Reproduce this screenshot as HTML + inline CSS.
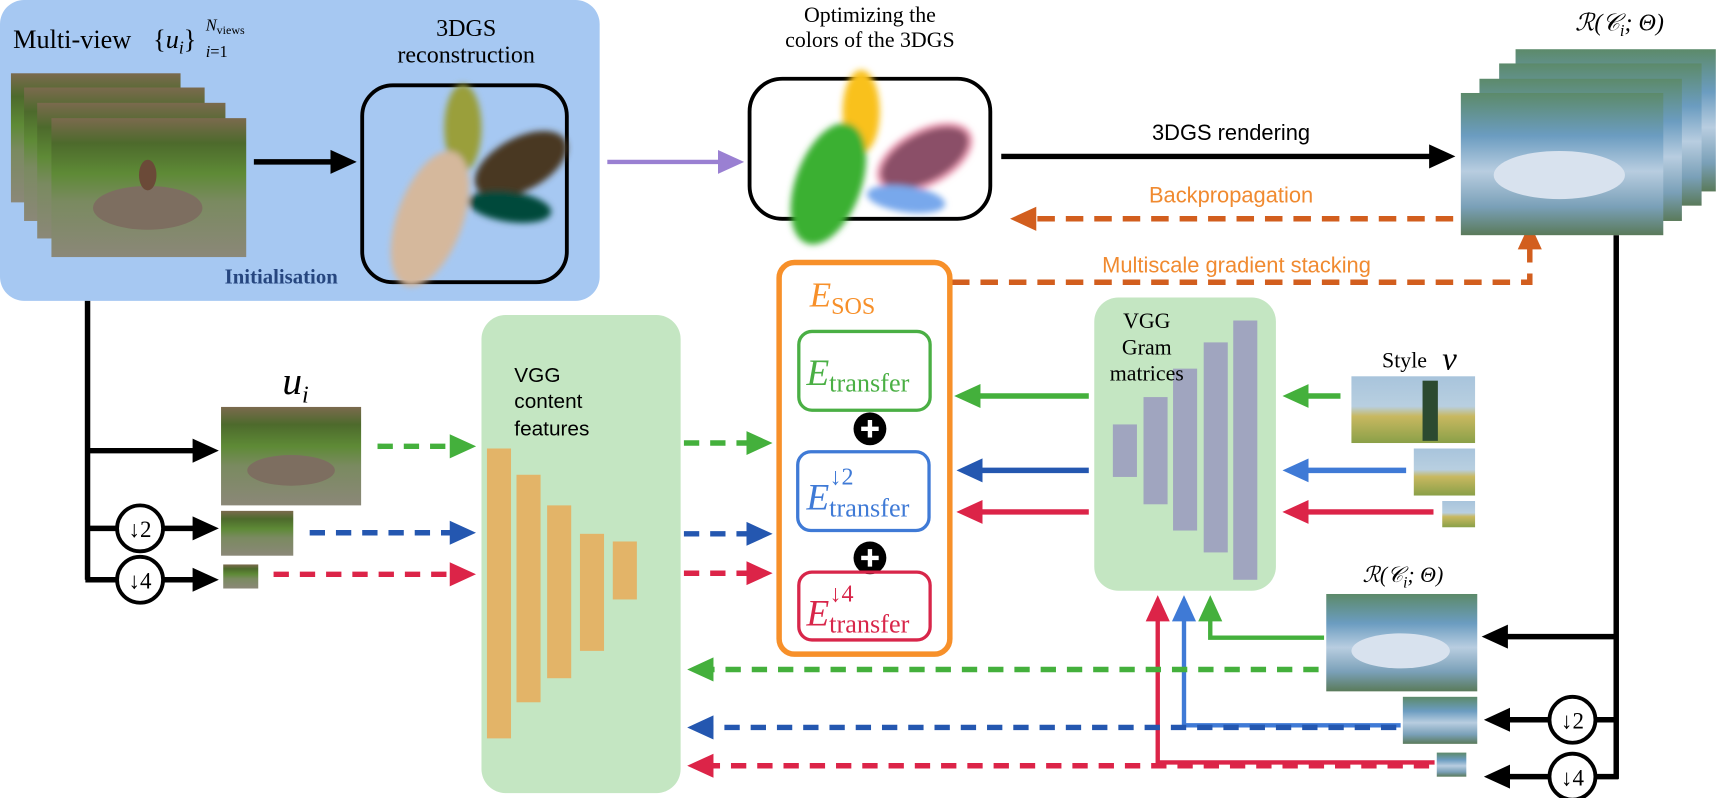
<!DOCTYPE html>
<html><head><meta charset="utf-8"><style>
html,body{margin:0;padding:0;background:#fff;}
svg{display:block;}
text{font-family:"Liberation Serif",serif;}
.sans{font-family:"Liberation Sans",sans-serif;}
</style></head><body>
<svg width="1718" height="798" viewBox="0 0 1570 729.5" preserveAspectRatio="none" xmlns="http://www.w3.org/2000/svg">
<defs>
<marker id="mk" markerUnits="userSpaceOnUse" markerWidth="24" markerHeight="24" refX="2" refY="12" orient="auto"><path d="M0,1 L24,12 L0,23 z" fill="#000"/></marker>
<marker id="mp" markerUnits="userSpaceOnUse" markerWidth="24" markerHeight="24" refX="2" refY="12" orient="auto"><path d="M0,1 L24,12 L0,23 z" fill="#9a80d2"/></marker>
<marker id="mo" markerUnits="userSpaceOnUse" markerWidth="24" markerHeight="24" refX="2" refY="12" orient="auto"><path d="M0,1 L24,12 L0,23 z" fill="#d25e1e"/></marker>
<marker id="mg" markerUnits="userSpaceOnUse" markerWidth="24" markerHeight="24" refX="2" refY="12" orient="auto"><path d="M0,1 L24,12 L0,23 z" fill="#44b03c"/></marker>
<marker id="mb" markerUnits="userSpaceOnUse" markerWidth="24" markerHeight="24" refX="2" refY="12" orient="auto"><path d="M0,1 L24,12 L0,23 z" fill="#2457b0"/></marker>
<marker id="mr" markerUnits="userSpaceOnUse" markerWidth="24" markerHeight="24" refX="2" refY="12" orient="auto"><path d="M0,1 L24,12 L0,23 z" fill="#dc2448"/></marker>
<marker id="mb2" markerUnits="userSpaceOnUse" markerWidth="24" markerHeight="24" refX="2" refY="12" orient="auto"><path d="M0,1 L24,12 L0,23 z" fill="#3f7ad6"/></marker>
<linearGradient id="photo" x1="0" y1="0" x2="0" y2="1">
<stop offset="0" stop-color="#7b6a4e"/><stop offset="0.18" stop-color="#4d6a2c"/><stop offset="0.4" stop-color="#5e8a36"/><stop offset="0.6" stop-color="#7a8a60"/><stop offset="1" stop-color="#8b8878"/></linearGradient>
<linearGradient id="paint" x1="0" y1="0" x2="0" y2="1">
<stop offset="0" stop-color="#5c8a6a"/><stop offset="0.3" stop-color="#6b9cc0"/><stop offset="0.55" stop-color="#b8cde0"/><stop offset="0.8" stop-color="#7aa0b8"/><stop offset="1" stop-color="#5a7a5a"/></linearGradient>
<linearGradient id="style" x1="0" y1="0" x2="0" y2="1">
<stop offset="0" stop-color="#a8c4dc"/><stop offset="0.45" stop-color="#b8cfe0"/><stop offset="0.6" stop-color="#c8b860"/><stop offset="1" stop-color="#8aa048"/></linearGradient>
<filter id="bl"><feGaussianBlur stdDeviation="3"/></filter>
</defs>

<!-- Init box -->
<rect x="0" y="0" width="548" height="275" rx="22" fill="#a6c8f2"/>
<text x="12" y="44" font-size="24">Multi-view</text>
<text x="140" y="44" font-size="24">{<tspan font-style="italic">u</tspan><tspan font-size="16" dy="5" font-style="italic">i</tspan><tspan dy="-5">}</tspan></text>
<text x="188" y="28" font-size="15" font-style="italic">N<tspan font-style="normal" font-size="11" dy="3">views</tspan></text>
<text x="188" y="52" font-size="15"><tspan font-style="italic">i</tspan>=1</text>
<text x="426" y="33" font-size="22" text-anchor="middle">3DGS</text>
<text x="426" y="57" font-size="22" text-anchor="middle">reconstruction</text>
<rect x="10" y="67" width="155" height="118" fill="url(#photo)"/>
<rect x="22" y="80" width="165" height="122" fill="url(#photo)"/>
<rect x="34" y="94" width="172" height="124" fill="url(#photo)"/>
<rect x="47" y="108" width="178" height="127" fill="url(#photo)"/>
<ellipse cx="135" cy="190" rx="50" ry="20" fill="#7d6e60"/>
<ellipse cx="135" cy="160" rx="8" ry="14" fill="#6b4a38"/>
<line x1="232" y1="148" x2="304" y2="148" stroke="#000" stroke-width="5" marker-end="url(#mk)"/>
<rect x="331" y="78" width="187" height="180" rx="28" fill="none" stroke="#000" stroke-width="3.5"/>
<g filter="url(#bl)">
<ellipse cx="423" cy="117" rx="17" ry="40" fill="#9a9f3a"/>
<ellipse cx="393" cy="200" rx="30" ry="65" fill="#d5b89c" transform="rotate(20 393 200)"/>
<ellipse cx="476" cy="150" rx="46" ry="24" fill="#4a3822" transform="rotate(-28 476 150)"/>
<ellipse cx="466" cy="189" rx="38" ry="14" fill="#00493b" transform="rotate(8 466 189)"/>
</g>
<text x="257" y="259" font-size="19" font-weight="bold" fill="#26467f" text-anchor="middle">Initialisation</text>

<line x1="555" y1="148" x2="658" y2="148" stroke="#9a80d2" stroke-width="4" marker-end="url(#mp)"/>

<text x="795" y="20" font-size="20" text-anchor="middle">Optimizing the</text>
<text x="795" y="43" font-size="20" text-anchor="middle">colors of the 3DGS</text>
<rect x="685" y="72" width="220" height="128" rx="30" fill="none" stroke="#000" stroke-width="3.5"/>
<g filter="url(#bl)">
<ellipse cx="787" cy="102" rx="17" ry="38" fill="#f9c11a"/>
<ellipse cx="757" cy="168" rx="30" ry="58" fill="#3bb032" transform="rotate(20 757 168)"/>
<ellipse cx="845" cy="144" rx="46" ry="24" fill="#8b5068" stroke="#f0a0b8" stroke-width="4" transform="rotate(-28 845 144)"/>
<ellipse cx="828" cy="182" rx="36" ry="12" fill="#78a8ec" transform="rotate(8 828 182)"/>
</g>

<text x="1125" y="128" font-size="20" text-anchor="middle" class="sans">3DGS rendering</text>
<line x1="915" y1="143" x2="1308" y2="143" stroke="#000" stroke-width="5" marker-end="url(#mk)"/>
<text x="1125" y="185" font-size="20" text-anchor="middle" fill="#f08a30" class="sans">Backpropagation</text>
<line x1="1328" y1="200" x2="945" y2="200" stroke="#d25e1e" stroke-width="5" stroke-dasharray="16 10" marker-end="url(#mo)"/>
<text x="1130" y="249" font-size="20" text-anchor="middle" fill="#f08a30" class="sans">Multiscale gradient stacking</text>
<path d="M870,258 L1398,258 L1398,226" fill="none" stroke="#d25e1e" stroke-width="5" stroke-dasharray="16 10" marker-end="url(#mo)"/>

<text x="1480" y="28" font-size="22" text-anchor="middle" font-style="italic">ℛ(𝒞<tspan font-size="15" dy="5">i</tspan><tspan dy="-5">; Θ)</tspan></text>
<rect x="1385" y="45" width="183" height="130" fill="url(#paint)"/>
<rect x="1370" y="58" width="185" height="130" fill="url(#paint)"/>
<rect x="1352" y="72" width="185" height="130" fill="url(#paint)"/>
<rect x="1335" y="85" width="185" height="130" fill="url(#paint)"/>
<ellipse cx="1425" cy="160" rx="60" ry="22" fill="#d8e2ee"/>

<!-- Esos -->
<rect x="712" y="240" width="156" height="358" rx="14" fill="#fff" stroke="#f7902a" stroke-width="5"/>
<text x="740" y="280" font-size="32" fill="#f7902a" font-style="italic">E<tspan font-style="normal" font-size="22" dy="7">SOS</tspan></text>
<rect x="730" y="303" width="120" height="72" rx="12" fill="none" stroke="#4aaf44" stroke-width="3"/>
<text x="737" y="352" font-size="34" fill="#4aaf44" font-style="italic">E<tspan font-style="normal" font-size="24" dy="6">transfer</tspan></text>
<circle cx="795" cy="392" r="15" fill="#000"/>
<path d="M787,392 H803 M795,384 V400" stroke="#fff" stroke-width="4"/>
<rect x="729" y="413" width="120" height="72" rx="12" fill="none" stroke="#3f7ad6" stroke-width="3"/>
<text x="737" y="466" font-size="34" fill="#3f7ad6" font-style="italic">E<tspan font-style="normal" font-size="24" dy="6">transfer</tspan></text>
<text x="758" y="443" font-size="22" fill="#3f7ad6">↓2</text>
<circle cx="795" cy="510" r="15" fill="#000"/>
<path d="M787,510 H803 M795,502 V518" stroke="#fff" stroke-width="4"/>
<rect x="730" y="523" width="120" height="62" rx="12" fill="none" stroke="#d8264a" stroke-width="3"/>
<text x="737" y="572" font-size="34" fill="#d8264a" font-style="italic">E<tspan font-style="normal" font-size="24" dy="6">transfer</tspan></text>
<text x="758" y="550" font-size="22" fill="#d8264a">↓4</text>

<!-- VGG content -->
<rect x="440" y="288" width="182" height="437" rx="22" fill="#c4e6c2"/>
<text x="470" y="349" font-size="19" class="sans">VGG</text>
<text x="470" y="373" font-size="19" class="sans">content</text>
<text x="470" y="398" font-size="19" class="sans">features</text>
<g fill="#e3b468">
<rect x="445" y="410" width="22" height="265"/>
<rect x="472" y="434" width="22" height="208"/>
<rect x="500" y="462" width="22" height="158"/>
<rect x="530" y="488" width="22" height="107"/>
<rect x="560" y="495" width="22" height="53"/>
</g>

<!-- VGG Gram -->
<rect x="1000" y="272" width="166" height="268" rx="22" fill="#c4e6c2"/>
<g fill="#a0a5bf">
<rect x="1017" y="388" width="22" height="48"/>
<rect x="1045" y="363" width="22" height="98"/>
<rect x="1072" y="337" width="22" height="148"/>
<rect x="1100" y="313" width="22" height="192"/>
<rect x="1127" y="293" width="22" height="237"/>
</g>
<text x="1048" y="300" font-size="20" text-anchor="middle">VGG</text>
<text x="1048" y="324" font-size="20" text-anchor="middle">Gram</text>
<text x="1048" y="348" font-size="20" text-anchor="middle">matrices</text>

<!-- Style -->
<text x="1263" y="336" font-size="20">Style</text>
<text x="1318" y="338" font-size="30" font-style="italic">ν</text>
<rect x="1235" y="344" width="113" height="61" fill="url(#style)"/>
<rect x="1300" y="348" width="14" height="55" fill="#2c4a30"/>
<rect x="1292" y="410" width="56" height="43" fill="url(#style)"/>
<rect x="1318" y="458" width="30" height="24" fill="url(#style)"/>
<line x1="1225" y1="362" x2="1194" y2="362" stroke="#44b03c" stroke-width="5" marker-end="url(#mg)"/>
<line x1="1285" y1="430" x2="1194" y2="430" stroke="#3f7ad6" stroke-width="5" marker-end="url(#mb2)"/>
<line x1="1310" y1="468" x2="1194" y2="468" stroke="#dc2448" stroke-width="5" marker-end="url(#mr)"/>
<line x1="995" y1="362" x2="894" y2="362" stroke="#44b03c" stroke-width="5" marker-end="url(#mg)"/>
<line x1="995" y1="430" x2="896" y2="430" stroke="#2457b0" stroke-width="5" marker-end="url(#mb)"/>
<line x1="995" y1="468" x2="896" y2="468" stroke="#dc2448" stroke-width="5" marker-end="url(#mr)"/>

<!-- Left branch -->
<path d="M80,275 V530" stroke="#000" stroke-width="5" fill="none"/>
<line x1="78" y1="412" x2="178" y2="412" stroke="#000" stroke-width="5" marker-end="url(#mk)"/>
<line x1="78" y1="483" x2="106" y2="483" stroke="#000" stroke-width="5"/>
<line x1="78" y1="530" x2="106" y2="530" stroke="#000" stroke-width="5"/>
<circle cx="128" cy="483" r="21" fill="#fff" stroke="#000" stroke-width="3.5"/>
<circle cx="128" cy="530" r="21" fill="#fff" stroke="#000" stroke-width="3.5"/>
<text x="128" y="491" font-size="21" text-anchor="middle">↓2</text>
<text x="128" y="538" font-size="21" text-anchor="middle">↓4</text>
<line x1="149" y1="483" x2="178" y2="483" stroke="#000" stroke-width="5" marker-end="url(#mk)"/>
<line x1="149" y1="530" x2="178" y2="530" stroke="#000" stroke-width="5" marker-end="url(#mk)"/>
<text x="258" y="360" font-size="36" font-style="italic">u<tspan font-size="22" dy="8">i</tspan></text>
<rect x="202" y="372" width="128" height="90" fill="url(#photo)"/>
<ellipse cx="266" cy="430" rx="40" ry="14" fill="#7d6e60"/>
<rect x="202" y="467" width="66" height="41" fill="url(#photo)"/>
<rect x="204" y="516" width="32" height="22" fill="url(#photo)"/>
<line x1="345" y1="408" x2="413" y2="408" stroke="#44b03c" stroke-width="5" stroke-dasharray="14 10" marker-end="url(#mg)"/>
<line x1="283" y1="487" x2="413" y2="487" stroke="#2457b0" stroke-width="5" stroke-dasharray="14 10" marker-end="url(#mb)"/>
<line x1="250" y1="525" x2="413" y2="525" stroke="#dc2448" stroke-width="5" stroke-dasharray="14 10" marker-end="url(#mr)"/>
<line x1="625" y1="405" x2="684" y2="405" stroke="#44b03c" stroke-width="5" stroke-dasharray="14 10" marker-end="url(#mg)"/>
<line x1="625" y1="488" x2="684" y2="488" stroke="#2457b0" stroke-width="5" stroke-dasharray="14 10" marker-end="url(#mb)"/>
<line x1="625" y1="524" x2="684" y2="524" stroke="#dc2448" stroke-width="5" stroke-dasharray="14 10" marker-end="url(#mr)"/>

<!-- Right branch -->
<path d="M1477,215 V712" stroke="#000" stroke-width="5" fill="none"/>
<line x1="1479" y1="582" x2="1376" y2="582" stroke="#000" stroke-width="5" marker-end="url(#mk)"/>
<line x1="1479" y1="658" x2="1458" y2="658" stroke="#000" stroke-width="5"/>
<line x1="1479" y1="710" x2="1458" y2="710" stroke="#000" stroke-width="5"/>
<circle cx="1437" cy="658" r="21" fill="#fff" stroke="#000" stroke-width="3.5"/>
<circle cx="1437" cy="710" r="21" fill="#fff" stroke="#000" stroke-width="3.5"/>
<text x="1437" y="666" font-size="21" text-anchor="middle">↓2</text>
<text x="1437" y="718" font-size="21" text-anchor="middle">↓4</text>
<line x1="1416" y1="658" x2="1378" y2="658" stroke="#000" stroke-width="5" marker-end="url(#mk)"/>
<line x1="1416" y1="710" x2="1378" y2="710" stroke="#000" stroke-width="5" marker-end="url(#mk)"/>
<text x="1282" y="532" font-size="20" text-anchor="middle" font-style="italic">ℛ(𝒞<tspan font-size="14" dy="5">i</tspan><tspan dy="-5">; Θ)</tspan></text>
<rect x="1212" y="543" width="138" height="89" fill="url(#paint)"/>
<ellipse cx="1280" cy="595" rx="45" ry="16" fill="#d8e2ee"/>
<rect x="1282" y="637" width="68" height="43" fill="url(#paint)"/>
<rect x="1313" y="688" width="27" height="22" fill="url(#paint)"/>
<path d="M1210,583 H1106 V566" stroke="#44b03c" stroke-width="4" fill="none" marker-end="url(#mg)"/>
<path d="M1280,663 H1082 V566" stroke="#3f7ad6" stroke-width="4" fill="none" marker-end="url(#mb2)"/>
<path d="M1311,697 H1058 V566" stroke="#dc2448" stroke-width="4" fill="none" marker-end="url(#mr)"/>
<line x1="1205" y1="612" x2="650" y2="612" stroke="#44b03c" stroke-width="5" stroke-dasharray="14 10" marker-end="url(#mg)"/>
<line x1="1276" y1="665" x2="650" y2="665" stroke="#2457b0" stroke-width="5" stroke-dasharray="14 10" marker-end="url(#mb)"/>
<line x1="1306" y1="700" x2="650" y2="700" stroke="#dc2448" stroke-width="5" stroke-dasharray="14 10" marker-end="url(#mr)"/>
</svg>
</body></html>
